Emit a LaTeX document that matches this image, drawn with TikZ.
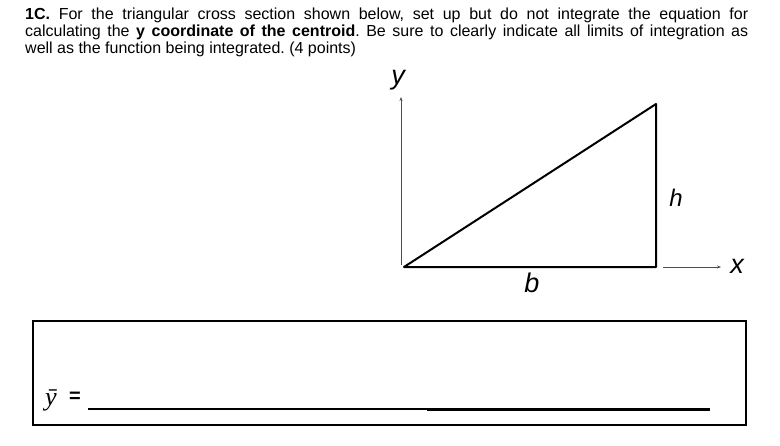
\documentclass[tikz,border=0pt]{standalone}
\usepackage{fontspec}
\setmainfont{Liberation Sans}
\newfontfamily\serifvar{Liberation Serif}
\usetikzlibrary{arrows.meta}

\begin{document}
\begin{tikzpicture}[x=1pt,y=-1pt,
    edge/.style={line width=2pt, line join=round},
    axis/.style={line width=0.6pt, black!70, -{Stealth[length=4pt,width=3pt]}},
    varlabel/.style={font=\fontsize{27}{27}\selectfont\itshape},
    answerbox/.style={line width=2.2pt}]
    \useasboundingbox (0,0) rectangle (780,445);

    % Question text
    \node[anchor=north west, inner sep=0pt, text width=723pt, align=justify,
          font=\fontsize{16}{17}\selectfont\frenchspacing] (question) at (25,8)
        {\textbf{1C.} For the triangular cross section shown below, set up but do not integrate the equation for\linebreak
         calculating the \textbf{y coordinate of the centroid}. Be sure to clearly indicate all limits of integration as\linebreak
         well as the function being integrated. (4 points)};

    % Triangle
    \coordinate (O) at (404,267);
    \coordinate (B) at (656,267);
    \coordinate (H) at (656,104);
    \draw[edge] (O) -- (B) -- (H) -- cycle;

    % Axes
    \coordinate (ybot) at (401,265);
    \coordinate (ytop) at (401,97);
    \coordinate (xleft) at (663,267);
    \coordinate (xright) at (721,267);
    \draw[axis] (ybot) -- (ytop);
    \draw[axis] (xleft) -- (xright);
    \node[varlabel] (ylab) at (398,80) {y};
    \node[varlabel] (xlab) at (737,266) {x};
    \node[varlabel, font=\fontsize{24}{24}\selectfont\itshape] (hlab) at (676,198) {h};
    \node[varlabel] (blab) at (532,283) {b};

    % Answer box
    \draw[answerbox] (33,321) rectangle (746,425);
    \node[inner sep=0pt, font=\fontsize{26}{26}\selectfont\serifvar\itshape] (ybar) at (51,400) {ȳ};
    \node[inner sep=0pt, font=\fontsize{20}{20}\selectfont\bfseries] (eq) at (75,397) {=};
    \coordinate (lineA) at (88,409);
    \coordinate (lineB) at (427,409);
    \coordinate (lineC) at (710,409);
    \draw[line width=2pt] (lineA) -- (lineB);
    \draw[line width=3pt] (lineB) -- (lineC);
\end{tikzpicture}
\end{document}
